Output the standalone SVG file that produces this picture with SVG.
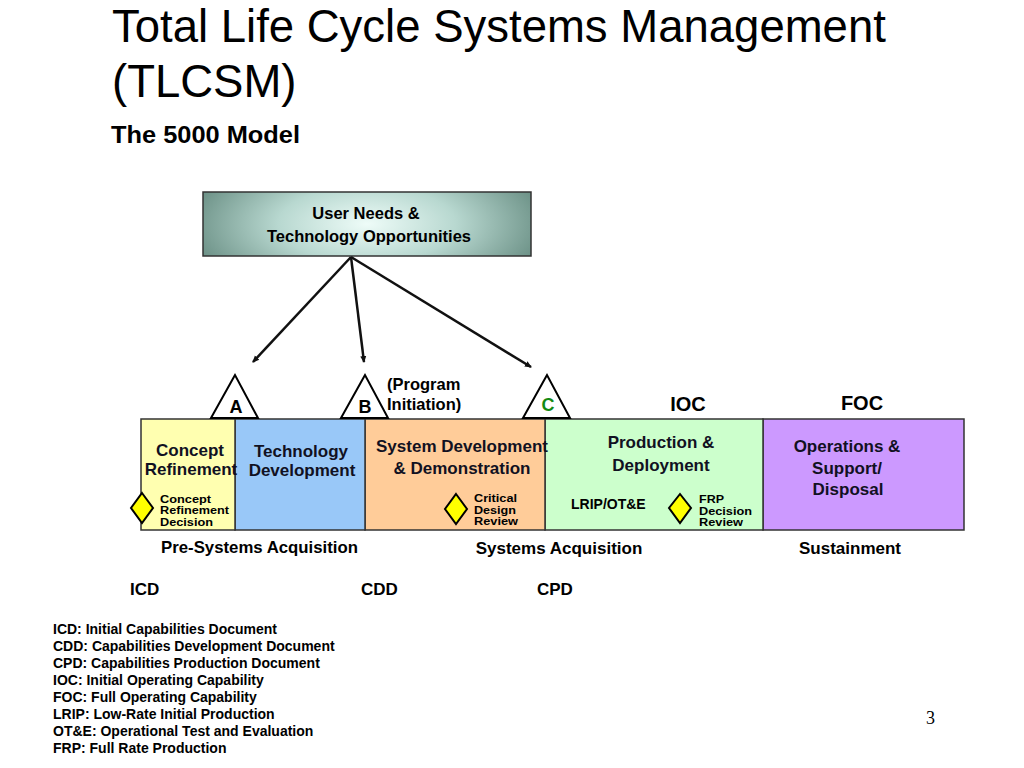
<svg xmlns="http://www.w3.org/2000/svg" width="1024" height="768" viewBox="0 0 1024 768">
<defs>
<radialGradient id="g1" cx="0.5" cy="0.5" r="0.6" gradientTransform="translate(0.5 0.5) scale(1 2.2) translate(-0.5 -0.5)">
<stop offset="0" stop-color="#eefcf8"/>
<stop offset="0.45" stop-color="#b8d8d0"/>
<stop offset="1" stop-color="#5e8479"/>
</radialGradient>
<marker id="ah" markerWidth="8" markerHeight="8" refX="6" refY="4" orient="auto" markerUnits="userSpaceOnUse">
<path d="M0,1 L7,4 L0,7 z" fill="#111"/>
</marker>
</defs>
<style>
text{font-family:"Liberation Sans",Arial,sans-serif;fill:#000}
.b{font-weight:bold}
.ph{font-weight:bold;font-size:17px;text-anchor:middle;fill:#111122}
.sm{font-weight:bold;font-size:10px}
.lg{font-weight:bold;font-size:14px}
.ms{font-weight:bold;font-size:16.5px}
.ac{font-weight:bold;font-size:17px}
.box{stroke:#333;stroke-width:1.5}
.tri{fill:#fff;stroke:#000;stroke-width:2}
.dia{fill:#ffff00;stroke:#000;stroke-width:2}
.con{stroke:#111;stroke-width:2.5;fill:none}
</style>
<rect width="1024" height="768" fill="#fff"/>
<g id="title">
<text x="112" y="42" font-size="45.5">Total Life Cycle Systems Management</text>
<text x="112" y="97" font-size="45.5">(TLCSM)</text>
<text x="111" y="143" class="b" font-size="24" textLength="189" lengthAdjust="spacingAndGlyphs">The 5000 Model</text>
</g>
<g id="userneeds">
<rect x="203" y="192" width="328" height="64" fill="url(#g1)" stroke="#333" stroke-width="1.5"/>
<text x="366" y="219" class="ms" text-anchor="middle">User Needs &amp;</text>
<text x="369" y="242" class="ms" text-anchor="middle">Technology Opportunities</text>
</g>
<g id="connectors">
<line x1="351" y1="257" x2="253" y2="362" class="con" marker-end="url(#ah)"/>
<line x1="351" y1="257" x2="364" y2="362" class="con" marker-end="url(#ah)"/>
<line x1="351" y1="257" x2="531" y2="367" class="con" marker-end="url(#ah)"/>
</g>
<g id="phase-ops">
<rect x="763" y="419" width="201" height="111" fill="#cc99ff" class="box"/>
<text x="847" y="452" class="ph">Operations &amp;</text>
<text x="847" y="474" class="ph">Support/</text>
<text x="848" y="495" class="ph">Disposal</text>
</g>
<g id="phase-prod">
<rect x="545" y="419" width="218" height="111" fill="#ccffcc" class="box"/>
<text x="661" y="448" class="ph">Production &amp;</text>
<text x="661" y="471" class="ph">Deployment</text>
<text x="571" y="509" class="b" font-size="14">LRIP/OT&amp;E</text>
</g>
<g id="phase-sdd">
<rect x="365" y="419" width="180" height="111" fill="#ffcc99" class="box"/>
<text x="462" y="452" class="ph">System Development</text>
<text x="462" y="474" class="ph">&amp; Demonstration</text>
</g>
<g id="phase-tech">
<rect x="235" y="419" width="130" height="111" fill="#99c8f8" class="box"/>
<text x="301" y="457" class="ph">Technology</text>
<text x="302" y="476" class="ph">Development</text>
</g>
<g id="phase-concept">
<rect x="141" y="419" width="94" height="111" fill="#ffffb0" class="box"/>
<text x="190" y="456" class="ph">Concept</text>
<text x="191" y="475" class="ph">Refinement</text>
</g>
<g id="milestone-a">
<polygon points="235,375 211,418 258,418" class="tri"/>
<text x="236" y="413" class="b" font-size="18" text-anchor="middle">A</text>
</g>
<g id="milestone-b">
<polygon points="365,375 341,418 388,418" class="tri"/>
<text x="365" y="413" class="b" font-size="18" text-anchor="middle">B</text>
<text x="387" y="390" class="ms">(Program</text>
<text x="387" y="410" class="ms">Initiation)</text>
</g>
<g id="milestone-c">
<polygon points="547,375 523,418 570,418" class="tri"/>
<text x="548" y="411" class="b" font-size="18" text-anchor="middle" style="fill:#138a13">C</text>
</g>
<g id="ioc"><text x="688" y="411" class="b" font-size="20" text-anchor="middle">IOC</text></g>
<g id="foc"><text x="862" y="410" class="b" font-size="20" text-anchor="middle">FOC</text></g>
<g id="crd">
<polygon points="142,493 153,508 142,523 131,508" class="dia"/>
<text x="160" y="502.5" class="sm" textLength="51" lengthAdjust="spacingAndGlyphs">Concept</text>
<text x="160" y="514" class="sm" textLength="69" lengthAdjust="spacingAndGlyphs">Refinement</text>
<text x="160" y="525.5" class="sm" textLength="53" lengthAdjust="spacingAndGlyphs">Decision</text>
</g>
<g id="cdr">
<polygon points="456,494 467,509 456,524 445,509" class="dia"/>
<text x="474" y="502" class="sm" textLength="43" lengthAdjust="spacingAndGlyphs">Critical</text>
<text x="474" y="513.5" class="sm" textLength="42" lengthAdjust="spacingAndGlyphs">Design</text>
<text x="474" y="525" class="sm" textLength="44" lengthAdjust="spacingAndGlyphs">Review</text>
</g>
<g id="frp">
<polygon points="680,494 691,508 680,523 669,508" class="dia"/>
<text x="699" y="503" class="sm" textLength="25" lengthAdjust="spacingAndGlyphs">FRP</text>
<text x="699" y="514.5" class="sm" textLength="53" lengthAdjust="spacingAndGlyphs">Decision</text>
<text x="699" y="526" class="sm" textLength="44" lengthAdjust="spacingAndGlyphs">Review</text>
</g>
<g id="activities">
<text x="161" y="553" class="ac" textLength="197" lengthAdjust="spacingAndGlyphs">Pre-Systems Acquisition</text>
<text x="559" y="554" class="ac" text-anchor="middle">Systems Acquisition</text>
<text x="850" y="554" class="ac" text-anchor="middle">Sustainment</text>
<text x="130" y="595" class="ac">ICD</text>
<text x="361" y="595" class="ac">CDD</text>
<text x="537" y="595" class="ac">CPD</text>
</g>
<g id="legend">
<text x="53" y="634" class="lg">ICD: Initial Capabilities Document</text>
<text x="53" y="651" class="lg">CDD: Capabilities Development Document</text>
<text x="53" y="668" class="lg">CPD: Capabilities Production Document</text>
<text x="53" y="685" class="lg">IOC: Initial Operating Capability</text>
<text x="53" y="702" class="lg">FOC: Full Operating Capability</text>
<text x="53" y="719" class="lg">LRIP: Low-Rate Initial Production</text>
<text x="53" y="736" class="lg">OT&amp;E: Operational Test and Evaluation</text>
<text x="53" y="753" class="lg">FRP: Full Rate Production</text>
</g>
<text x="926" y="724" font-size="18" style="font-family:'Liberation Serif',serif">3</text>
</svg>
